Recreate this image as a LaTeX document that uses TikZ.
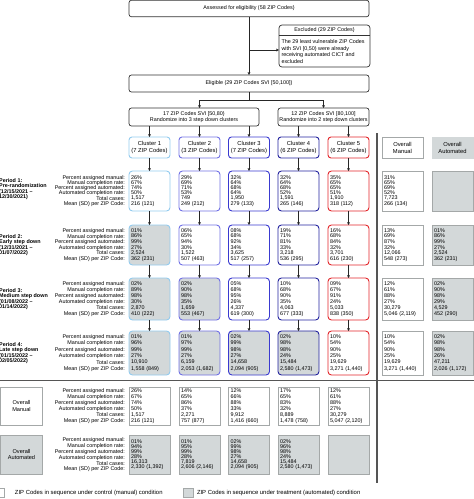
\documentclass[tikz,border=0pt]{standalone}
\usepackage{fontspec}
\setmainfont{Liberation Sans}
\usetikzlibrary{arrows.meta}
\definecolor{cA}{HTML}{93CBEE}
\definecolor{cB}{HTML}{7070E4}
\definecolor{cC}{HTML}{3A3AD0}
\definecolor{cD}{HTML}{23239E}
\definecolor{cE}{HTML}{E2262B}
\definecolor{gfill}{HTML}{D3D8D9}
\definecolor{gline}{HTML}{A4A8A8}
\definecolor{sepc}{HTML}{555555}
\newcommand\rowtxt{Percent assigned manual:\\Manual completion rate:\\Percent assigned automated:\\Automated completion rate:\\Total cases:\\Mean (SD) per ZIP Code:}
\begin{document}
\begin{tikzpicture}[x=1pt,y=-1pt,
 every node/.style={inner sep=0pt, outer sep=0pt},
 lbl/.style={font=\fontsize{5.4}{6.5}\selectfont},
 topbox/.style={draw=black!80, line width=0.7pt, rounded corners=2.5pt, align=center, lbl},
 clu/.style={draw=#1, line width=0.9pt, rounded corners=3pt, minimum width=41pt, minimum height=21pt, anchor=north, align=center, font=\fontsize{5.8}{7}\selectfont},
 pbox/.style={draw=#1, line width=0.9pt, rounded corners=3.5pt, minimum width=41pt, text width=37pt, inner xsep=2pt, anchor=north, align=left},
 autof/.style={fill=gfill},
 obm/.style={draw=gline, line width=0.5pt, minimum width=41pt, text width=37pt, inner xsep=2pt, anchor=north, align=left},
 oba/.style={obm, fill=gfill},
 r1/.style={minimum height=40pt, font=\fontsize{5.4}{5.1}\selectfont},
 r2/.style={minimum height=40pt, font=\fontsize{5.4}{5.6}\selectfont},
 r3/.style={minimum height=42pt, font=\fontsize{5.4}{6.0}\selectfont},
 r4/.style={minimum height=44pt, font=\fontsize{5.4}{6.4}\selectfont},
 r5/.style={minimum height=38pt, font=\fontsize{5.4}{6.0}\selectfont},
 r6/.style={minimum height=39pt, font=\fontsize{5.4}{5.0}\selectfont},
 rl/.style={anchor=east, align=right},
 plab/.style={anchor=west, align=left, font=\fontsize{5.4}{5.5}\selectfont\bfseries},
 arr/.style={draw=black!85, line width=0.6pt, -{Triangle[open,length=2.6pt,width=2.8pt]}},
 ]
\useasboundingbox (0,0) rectangle (474,499);

% ---- top flow ----
\node[topbox, minimum width=240pt, minimum height=16.5pt] (assess) at (249,8.5) {Assessed for eligibility (58 ZIP Codes)};
\node[draw=black!80, line width=0.7pt, rounded corners=3pt, minimum width=91pt, minimum height=42pt, anchor=north west] (excl) at (279,25) {};
\node[lbl] (exh) at (324.5,30.3) {Excluded (29 ZIP Codes)};
\draw[black!80, line width=0.6pt] ([yshift=-10pt]excl.north west) -- ([yshift=-10pt]excl.north east);
\node[lbl, anchor=west, align=left, font=\fontsize{5.4}{6.4}\selectfont] (exb) at (281.5,51.6) {The 29 least vulnerable ZIP Codes\\with SVI [0,50) were already\\receiving automated CICT and\\excluded};
\node[topbox, minimum width=240pt, minimum height=17pt] (elig) at (249,83.5) {Eligible (29 ZIP Codes SVI [50,100])};
\coordinate (br) at (249,50);
\draw[arr] (assess.south) -- (elig.north);
\draw[arr] (br) -- (br -| excl.west);

\node[topbox, minimum width=130pt, minimum height=18pt] (g1) at (194,117) {17 ZIP Codes SVI [50,80)\\Randomize into 3 step down clusters};
\node[topbox, minimum width=91pt, minimum height=18pt] (g2) at (323.5,117) {12 ZIP Codes SVI [80,100]\\Randomize into 2 step down clusters};
\coordinate (jl) at (199.5,100);
\coordinate (jr) at (323.5,100);
\draw[black!85, line width=0.6pt] (elig.south) -- (249,100);
\draw[black!85, line width=0.6pt] (jl) -- (jr);
\draw[arr] (jl) -- (jl |- g1.north);
\draw[arr] (jr) -- (g2.north);

% ---- clusters ----
\node[clu=cA] (c1) at (149.5,137) {Cluster 1\\(7 ZIP Codes)};
\node[clu=cB] (c2) at (199.5,137) {Cluster 2\\(3 ZIP Codes)};
\node[clu=cC] (c3) at (249,137) {Cluster 3\\(7 ZIP Codes)};
\node[clu=cD] (c4) at (298.5,137) {Cluster 4\\(6 ZIP Codes)};
\node[clu=cE] (c5) at (348.5,137) {Cluster 5\\(6 ZIP Codes)};
\node[clu=gline, line width=0.5pt, rounded corners=0pt] (hm) at (402.5,137) {Overall\\Manual};
\node[clu=gfill, fill=gfill, line width=0.5pt, rounded corners=0pt] (ha) at (452.5,137) {Overall\\Automated};
\draw[arr] (c1.north |- g1.south) -- (c1.north);
\draw[arr] (c2.north |- g1.south) -- (c2.north);
\draw[arr] (c3.north |- g1.south) -- (c3.north);
\draw[arr] (c4.north |- g2.south) -- (c4.north);
\draw[arr] (c5.north |- g2.south) -- (c5.north);

% ---- separators ----
\draw[sepc, line width=1.5pt] (377,133) -- (377,483);
\draw[sepc, line width=0.8pt] (0,380) -- (474,380);

% ---- Period 1 ----
\node[plab] (per1) at (-0.8,189) {Period 1:\\Pre-randomization\\(12/15/2021 –\\12/30/2021)};
\node[rl, r1] (lab1) at (125,191) {\rowtxt};
\node[pbox=cA, r1] (p1a) at (149.5,171) {26\%\\67\%\\74\%\\50\%\\1,517\\216 (121)};
\node[pbox=cB, r1] (p1b) at (199.5,171) {29\%\\69\%\\71\%\\53\%\\749\\249 (212)};
\node[pbox=cC, r1] (p1c) at (249,171) {32\%\\64\%\\68\%\\64\%\\1,950\\279 (133)};
\node[pbox=cD, r1] (p1d) at (298.5,171) {32\%\\64\%\\68\%\\52\%\\1,591\\265 (146)};
\node[pbox=cE, r1] (p1e) at (348.5,171) {35\%\\65\%\\65\%\\51\%\\1,910\\318 (112)};
\node[obm, r1] (p1m) at (402.5,171) {31\%\\65\%\\69\%\\52\%\\7,723\\266 (134)};
\node[oba, r1] (p1o) at (452.5,171) {};

% ---- Period 2 ----
\node[plab] (per2) at (-0.8,245) {Period 2:\\Early step down\\(12/31/2021 –\\01/07/2022)};
\node[rl, r2] (lab2) at (125,245) {\rowtxt};
\node[pbox=cA, autof, r2] (p2a) at (149.5,225) {01\%\\86\%\\99\%\\27\%\\2,524\\362 (231)};
\node[pbox=cB, r2] (p2b) at (199.5,225) {06\%\\65\%\\94\%\\30\%\\1,522\\507 (463)};
\node[pbox=cC, r2] (p2c) at (249,225) {08\%\\68\%\\92\%\\34\%\\3,625\\517 (257)};
\node[pbox=cD, r2] (p2d) at (298.5,225) {19\%\\71\%\\81\%\\33\%\\3,218\\536 (295)};
\node[pbox=cE, r2] (p2e) at (348.5,225) {16\%\\68\%\\84\%\\32\%\\3,701\\616 (230)};
\node[obm, r2] (p2m) at (402.5,225) {13\%\\69\%\\87\%\\32\%\\12,066\\548 (273)};
\node[oba, r2] (p2o) at (452.5,225) {01\%\\86\%\\99\%\\27\%\\2,524\\362 (231)};

% ---- Period 3 ----
\node[plab] (per3) at (-0.8,299) {Period 3:\\Medium step down\\(01/08/2022 –\\01/14/2022)};
\node[rl, r3] (lab3) at (125,299) {\rowtxt};
\node[pbox=cA, autof, r3] (p3a) at (149.5,278) {02\%\\89\%\\98\%\\30\%\\2,870\\410 (222)};
\node[pbox=cB, autof, r3] (p3b) at (199.5,278) {02\%\\90\%\\98\%\\35\%\\1,659\\553 (467)};
\node[pbox=cC, r3] (p3c) at (249,278) {05\%\\68\%\\95\%\\26\%\\4,337\\619 (300)};
\node[pbox=cD, r3] (p3d) at (298.5,278) {10\%\\68\%\\90\%\\35\%\\4,063\\677 (333)};
\node[pbox=cE, r3] (p3e) at (348.5,278) {09\%\\67\%\\91\%\\24\%\\5,033\\838 (350)};
\node[obm, r3] (p3m) at (402.5,278) {12\%\\61\%\\88\%\\27\%\\30,279\\5,046 (2,119)};
\node[oba, r3] (p3o) at (452.5,278) {02\%\\90\%\\98\%\\29\%\\4,529\\452 (290)};

% ---- Period 4 ----
\node[plab] (per4) at (-0.8,353) {Period 4:\\Late step down\\(01/15/2022 –\\02/05/2022)};
\node[rl, r4] (lab4) at (125,353) {\rowtxt};
\node[pbox=cA, autof, r4] (p4a) at (149.5,331) {01\%\\96\%\\99\%\\27\%\\10,910\\1,558 (849)};
\node[pbox=cB, autof, r4] (p4b) at (199.5,331) {01\%\\97\%\\99\%\\27\%\\6,159\\2,053 (1,682)};
\node[pbox=cC, autof, r4] (p4c) at (249,331) {02\%\\99\%\\98\%\\27\%\\14,658\\2,094 (905)};
\node[pbox=cD, autof, r4] (p4d) at (298.5,331) {02\%\\98\%\\98\%\\24\%\\15,484\\2,580 (1,473)};
\node[pbox=cE, r4] (p4e) at (348.5,331) {10\%\\54\%\\90\%\\25\%\\19,629\\3,271 (1,440)};
\node[obm, r4] (p4m) at (402.5,331) {10\%\\54\%\\90\%\\25\%\\19,629\\3,271 (1,440)};
\node[oba, r4] (p4o) at (452.5,331) {02\%\\98\%\\98\%\\26\%\\47,211\\2,026 (1,172)};

% ---- arrows between periods ----
\foreach \k in {a,b,c,d,e}{
  \draw[arr] (p1\k.south) -- (p2\k.north);
  \draw[arr] (p2\k.south) -- (p3\k.north);
  \draw[arr] (p3\k.south) -- (p4\k.north);
}
\draw[arr] (c1.south) -- (p1a.north);
\draw[arr] (c2.south) -- (p1b.north);
\draw[arr] (c3.south) -- (p1c.north);
\draw[arr] (c4.south) -- (p1d.north);
\draw[arr] (c5.south) -- (p1e.north);

% ---- Overall manual ----
\node[obm, r5, text width=38pt, align=center, font=\fontsize{5.6}{6.6}\selectfont] (olm) at (21.5,387) {Overall\\Manual};
\node[rl, r5] (lab5) at (125,406) {\rowtxt};
\node[obm, r5] (oma) at (149.5,387) {26\%\\67\%\\74\%\\50\%\\1,517\\216 (121)};
\node[obm, r5] (omb) at (199.5,387) {14\%\\65\%\\86\%\\37\%\\2,271\\757 (877)};
\node[obm, r5] (omc) at (249,387) {12\%\\66\%\\88\%\\33\%\\9,912\\1,416 (660)};
\node[obm, r5] (omd) at (298.5,387) {17\%\\65\%\\83\%\\32\%\\8,889\\1,478 (758)};
\node[obm, r5] (ome) at (348.5,387) {12\%\\61\%\\88\%\\27\%\\30,279\\5,047 (2,120)};

% ---- Overall automated ----
\node[oba, r6, text width=38pt, align=center, font=\fontsize{5.6}{6.6}\selectfont] (ola) at (21.5,435) {Overall\\Automated};
\node[rl, r6] (lab6) at (125,454.5) {\rowtxt};
\node[oba, r6] (oaa) at (149.5,435) {01\%\\94\%\\99\%\\28\%\\16,313\\2,330 (1,392)};
\node[oba, r6] (oab) at (199.5,435) {01\%\\95\%\\99\%\\28\%\\7,819\\2,606 (2,146)};
\node[oba, r6] (oac) at (249,435) {02\%\\99\%\\98\%\\27\%\\14,658\\2,094 (905)};
\node[oba, r6] (oad) at (298.5,435) {02\%\\96\%\\98\%\\24\%\\15,484\\2,580 (1,473)};
\node[oba, r6] (oae) at (348.5,435) {};

% ---- legend ----
\node[draw=gline, line width=0.5pt, minimum width=10pt, minimum height=9pt] (lgm) at (-1,492.5) {};
\node[anchor=west, font=\fontsize{5.9}{7}\selectfont] (lgmt) at (15,492.5) {ZIP Codes in sequence under control (manual) condition};
\node[draw=gline, fill=gfill, line width=0.5pt, minimum width=10pt, minimum height=9pt] (lga) at (188,492.5) {};
\node[anchor=west, font=\fontsize{5.9}{7}\selectfont] (lgat) at (197,492.5) {ZIP Codes in sequence under treatment (automated) condition};
\end{tikzpicture}
\end{document}
